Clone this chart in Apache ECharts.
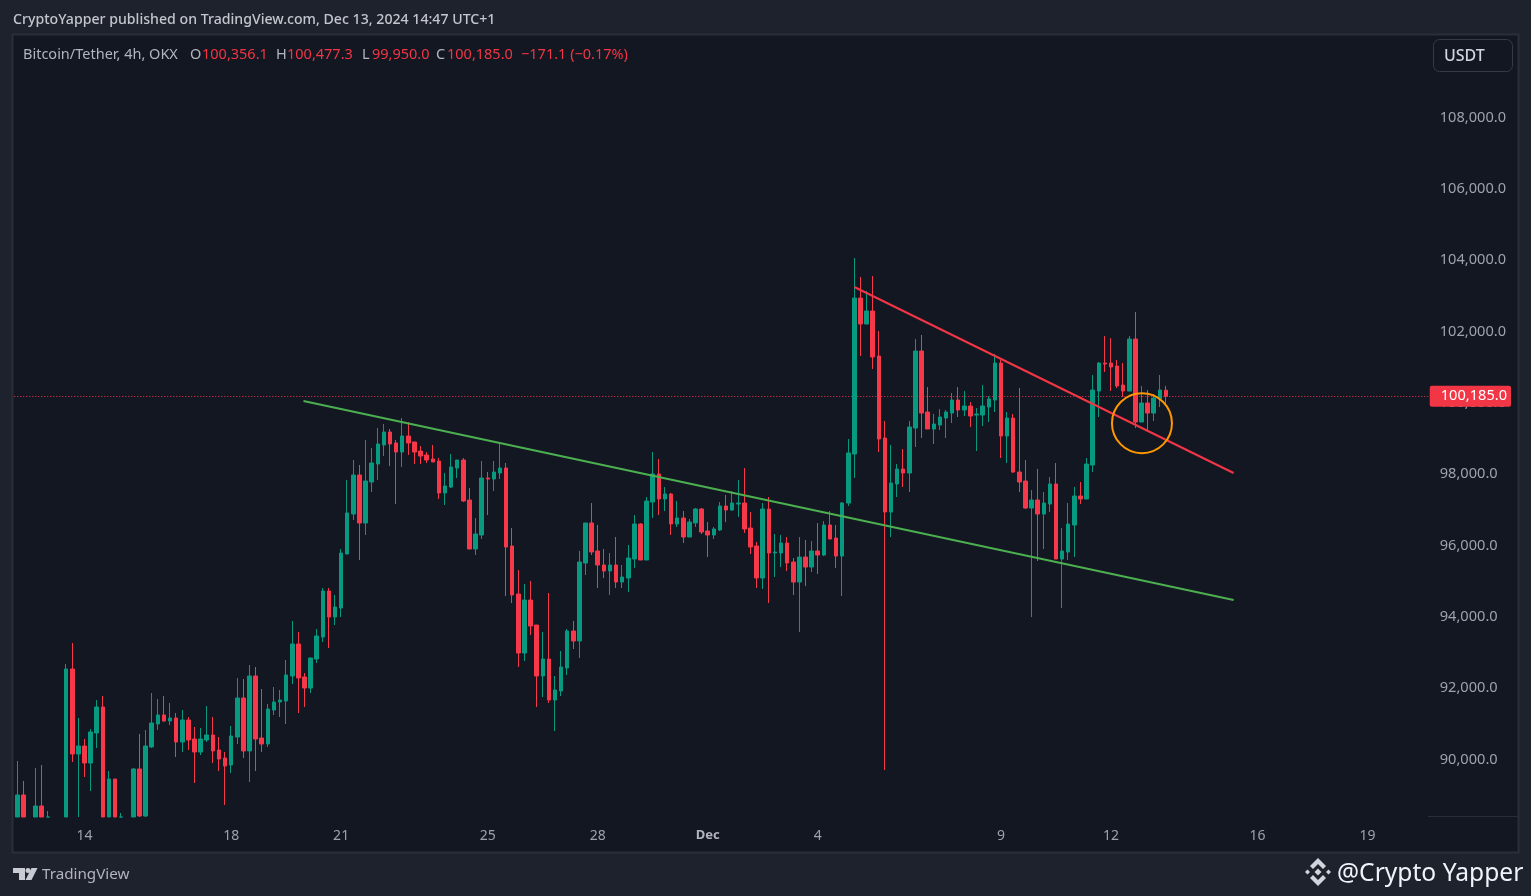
<!DOCTYPE html>
<html>
<head>
<meta charset="utf-8">
<style>html,body{margin:0;padding:0;background:#1e222d}#main{width:1531px;height:896px}</style>
<script src="https://cdn.jsdelivr.net/npm/echarts@6/dist/echarts.min.js"></script>
</head>
<body>
<div id="main"></div>
<script>
// 4h candles. Bars below the axis floor are rough guesses.
var opens = [
  88200,89005,87600,88100,88696,88200,87900,87700,88000,92538,
  90155,90379,89902,90743,91472,88200,89453,88000,88000,88200,
  89734,88416,90351,90996,91248,91080,91164,90491,91108,90575,
  90211,90547,90687,90267,90042,89846,90631,91725,90239,92342,
  90603,90435,91388,91613,91641,92342,93239,92314,92005,92818,
  93435,94725,93996,94248,95762,96884,97977,96631,97781,98286,
  98819,99183,98875,98622,99071,98903,98650,98538,98426,98370,
  97473,97641,98174,98398,97276,95902,96295,97893,97865,98033,
  98174,95986,94641,92986,94472,93771,92341,92818,91668,91921,
  92566,93603,93323,95510,96632,95846,95454,95286,95454,94977,
  95089,95622,96604,95594,97220,98006,97305,97445,96604,96772,
  96239,96632,97024,96407,96295,96435,97108,96996,97164,97192,
  96491,95987,95089,97024,95790,95790,96070,95537,94976,95677,
  95397,95846,95734,96575,96210,95705,97192,98566,102940,102211,
  102576,101314,99014,96939,97725,98145,98033,99295,101454,99743,
  99267,99379,99575,99715,100080,99799,99912,99659,99659,99884,
  100080,101117,99070,99575,98061,97808,97051,97276,96883,97164,
  97725,95621,95818,96575,97388,97304,98257,100332,101117,101117,
  101033,100500,100332,101790,99463,99996,99715,100108,100356.1
];
var closes = [
  89005,88000,87300,88696,88000,87900,87700,88000,92538,90155,
  90379,89902,90771,91472,88200,89453,88300,88200,88100,89734,
  88416,90379,91024,91248,91080,91164,90491,91108,90547,90211,
  90575,90687,90239,90014,89818,90659,91725,90239,92342,90575,
  90435,91416,91613,91669,92370,93239,92286,92005,92846,93463,
  94725,93996,94276,95790,96912,97977,96631,97809,98314,98847,
  99183,98847,98622,99071,98875,98622,98510,98398,98342,97473,
  97669,98202,98398,97248,95902,96323,97893,97865,98061,98174,
  95958,94612,92986,94472,93743,92341,92818,91668,91949,92594,
  93603,93323,95538,96632,95818,95454,95286,95454,94977,95117,
  95650,96604,95594,97248,98006,97305,97445,96604,96772,96239,
  96660,97024,96379,96295,96463,97108,96996,97192,97192,96463,
  95959,95089,97024,95790,95818,96070,95509,94976,95677,95397,
  95846,95734,96575,96182,95705,97192,98594,102940,102211,102576,
  101286,98986,96939,97753,98145,98033,99323,101454,99715,99267,
  99407,99603,99743,100080,99799,99912,99631,99687,99912,100108,
  101117,99070,99575,98061,97781,97051,97276,96883,97192,97725,
  95621,95846,96603,97388,97304,98285,100360,101117,101089,101005,
  100472,100332,101790,99463,99996,99715,100136,100360,100185
];
var lows = [
  87900,87800,87000,87900,87700,87700,87200,87300,87900,89930,
  88000,89510,89117,90323,88000,88000,88100,87800,87800,88000,
  88350,88380,90323,90827,91052,90968,90070,90211,90267,89341,
  90126,90491,89902,89678,88724,89622,90435,90042,89369,89678,
  90211,90351,91248,91192,90996,92117,91304,91472,91865,92706,
  93295,93126,93771,93996,95762,96716,95594,96295,97501,97837,
  98510,98230,97164,98202,98538,98286,98286,98314,98342,97304,
  97136,97613,97893,97220,95902,95734,96183,96856,97529,97865,
  94584,94388,92594,92762,93491,91472,91752,91584,90799,91780,
  92369,93098,92846,95173,95734,94809,95089,94613,94809,94809,
  94697,95370,95594,95594,96772,96856,96968,96295,96519,96071,
  96239,96519,96323,95678,96183,96407,96660,96968,96800,96351,
  95762,94809,94781,94388,95117,95397,95285,94612,93575,94864,
  95257,95201,95705,96182,95369,94584,97108,97893,101314,102211,
  100949,98622,89706,96238,97360,97640,97500,98762,99014,99267,
  98846,99239,99014,99435,99603,99631,99323,98650,99351,99463,
  99743,98454,98313,98033,97500,97023,93995,95565,95902,96939,
  95621,94247,95593,95678,97164,97304,98061,99603,100865,100332,
  100416,100164,100332,99295,99463,99239,99491,99884,99950
];
var highs = [
  89958,89397,88300,89762,89846,88556,88200,88300,92678,93267,
  91164,90575,90855,91669,91781,89678,89453,88500,88350,89762,
  90715,90827,91865,91697,91781,91585,91304,91388,91192,90912,
  90884,91500,91192,90631,90211,90940,92286,92258,92650,92594,
  91977,91557,92033,91949,92790,93884,93576,92426,92860,93659,
  94809,94809,94613,95902,97837,98398,98258,98959,98734,99295,
  99407,99267,98959,99576,99464,98903,98790,98622,98819,98454,
  98033,98566,98398,98454,97613,96772,98370,98061,98370,98875,
  98314,96491,95314,94921,95005,93771,93575,94669,92341,93042,
  93659,93884,95846,96632,97192,96576,95903,95790,96239,95454,
  96015,96856,96632,97361,98622,98426,97641,97473,97248,96968,
  96744,97052,97052,96660,96519,97220,97417,97529,97837,98174,
  96940,96099,97192,97361,96322,96294,96238,95649,96238,96154,
  96126,96631,96687,96967,96575,97220,98986,104062,103529,103136,
  103557,102015,99491,98818,98285,98706,99491,101790,101903,100444,
  99687,99827,99799,100276,100444,100332,100024,99856,100500,100192,
  101370,101202,99743,99687,100416,98397,97556,98145,97500,97921,
  98313,96491,97192,97640,97781,98454,100781,101145,101874,101818,
  101201,101117,101874,102548,100472,100360,100248,100781,100477.3
];

var lastPrice = 100185;
var priceFloor = 88388;
var priceCeil = 110315;
var slotCount = 232; // bars plus the empty space on the right
var tickIndex = [11, 35, 53, 77, 95, 113, 131, 161, 179, 203, 221];
var tickText = ["14", "18", "21", "25", "28", "Dec", "4", "9", "12", "16", "19"];
var priceTicks = [90000, 92000, 94000, 96000, 98000, 100000, 102000, 104000, 106000, 108000];

// trend lines and the circle, bar index / price
var greenLine = [[46.84, 100052], [199.07, 94472]];
var redLine = [[137, 103249], [199.07, 98033]];
var circleMark = [[184.07, 99430]];

var legendItems = [
  { text: "Bitcoin/Tether, 4h, OKX", x: 23, red: false },
  { text: "O", x: 190, red: false },
  { text: "100,356.1", x: 202, red: true },
  { text: "H", x: 276, red: false },
  { text: "100,477.3", x: 287, red: true },
  { text: "L", x: 362, red: false },
  { text: "99,950.0", x: 372, red: true },
  { text: "C", x: 436, red: false },
  { text: "100,185.0", x: 447, red: true },
  { text: "−171.1 (−0.17%)", x: 521, red: true }
];

var upColor = "#089981";
var downColor = "#f7374a";
var font = '"Noto Sans", sans-serif';

var categories = [];
for (var i = 0; i < slotCount; i++) categories.push(String(i));

// candlestick clip only drops whole bars, so cut the ones running under the pane here
function floored(v) {
  return Math.max(v, priceFloor);
}
var candles = [];
for (var i = 0; i < opens.length; i++) {
  if (highs[i] <= priceFloor) {
    candles.push(["-", "-", "-", "-"]);
  } else {
    candles.push([floored(opens[i]), floored(closes[i]), floored(lows[i]), highs[i]]);
  }
}

function priceText(v) {
  return v.toLocaleString("en-US", { minimumFractionDigits: 1 });
}

function diamond(cx, cy, r) {
  return { type: "polygon", silent: true, shape: { points: [[cx, cy - r], [cx + r, cy], [cx, cy + r], [cx - r, cy]] },
    style: { fill: "#d1d4dc" } };
}

var chrome = [
  { type: "rect", z: -10, silent: true, shape: { x: 12.5, y: 34.5, width: 1506, height: 818 },
    style: { fill: "#131722", stroke: "#2a2e39", lineWidth: 2 } },
  { type: "line", z: -9, silent: true, shape: { x1: 1428, y1: 816.5, x2: 1518, y2: 816.5 },
    style: { stroke: "#2a2e39", lineWidth: 1 } },
  { type: "rect", silent: true, shape: { x: 1433.5, y: 39.5, width: 79, height: 32, r: 6 },
    style: { fill: "#131722", stroke: "#363a45", lineWidth: 1 } },
  { type: "text", silent: true, style: { x: 1444, y: 56, text: "USDT", fill: "#d1d4dc",
    font: '500 16px ' + font, textVerticalAlign: "middle" } },
  { type: "text", silent: true, style: { x: 13, y: 19.5, text: "CryptoYapper published on TradingView.com, Dec 13, 2024 14:47 UTC+1",
    fill: "#c3c6ce", font: '500 14.15px ' + font, textVerticalAlign: "middle" } },
  // TradingView mark
  { type: "polygon", silent: true, shape: { points: [[13, 868], [25, 868], [25, 880], [19, 880], [19, 873], [13, 873]] },
    style: { fill: "#c8cbd3" } },
  { type: "polygon", silent: true, shape: { points: [[31.5, 868], [37.5, 868], [31.5, 880], [25.5, 880]] },
    style: { fill: "#c8cbd3" } },
  { type: "circle", silent: true, shape: { cx: 28, cy: 870.5, r: 2.5 }, style: { fill: "#c8cbd3" } },
  { type: "text", silent: true, style: { x: 42, y: 874.5, text: "TradingView", fill: "#b2b5be",
    font: '15.2px ' + font, textVerticalAlign: "middle" } },
  // Binance mark
  { type: "polygon", silent: true, shape: { points: [[1318, 858], [1326, 866], [1323, 869], [1318, 864], [1313, 869], [1310, 866]] },
    style: { fill: "#d1d4dc" } },
  { type: "polygon", silent: true, shape: { points: [[1318, 886], [1310, 878], [1313, 875], [1318, 880], [1323, 875], [1326, 878]] },
    style: { fill: "#d1d4dc" } },
  diamond(1318, 872, 3.5),
  diamond(1307.5, 872, 2.5),
  diamond(1328.5, 872, 2.5),
  { type: "text", silent: true, style: { x: 1337, y: 874, text: "@Crypto Yapper", fill: "#f0f3fa",
    font: '24.6px ' + font, textVerticalAlign: "middle" } }
];
for (var i = 0; i < legendItems.length; i++) {
  chrome.push({ type: "text", silent: true, style: {
    x: legendItems[i].x, y: 54.5, text: legendItems[i].text,
    fill: legendItems[i].red ? "#f23645" : "#b2b5be",
    font: '14.5px ' + font, textVerticalAlign: "middle" } });
}

var myChart = echarts.init(document.getElementById("main"), null, { renderer: "canvas" });

var option = {
  animation: false,
  backgroundColor: "#1e222d",
  graphic: chrome,
  grid: { left: 14.25, right: 99.25, top: 35, bottom: 79 },
  xAxis: [
    {
      type: "category",
      data: categories,
      axisLine: { show: false },
      axisTick: { show: false },
      splitLine: { show: false },
      axisLabel: {
        margin: 12,
        color: "#9ea2ac",
        fontFamily: font,
        fontSize: 14,
        hideOverlap: false,
        interval: function (index) { return tickIndex.indexOf(index) >= 0; },
        formatter: function (value, index) {
          var t = tickText[tickIndex.indexOf(index)];
          return t === "Dec" ? "{b|Dec}" : t;
        },
        rich: { b: { fontWeight: "bold", color: "#b2b5be", fontFamily: font, fontSize: 13 } }
      }
    },
    { type: "value", show: false, min: -0.5, max: slotCount - 0.5, splitLine: { show: false } }
  ],
  yAxis: {
    type: "value",
    position: "right",
    min: priceFloor,
    max: priceCeil,
    axisLine: { show: false },
    axisTick: { show: false },
    splitLine: { show: false },
    axisLabel: {
      customValues: priceTicks,
      margin: 8,
      padding: [0, 0, 3, 0],
      color: "#9ea2ac",
      fontFamily: font,
      fontSize: 14.6,
      formatter: priceText
    }
  },
  series: [
    {
      type: "candlestick",
      z: 3,
      data: candles,
      barWidth: 4,
      silent: true,
      itemStyle: {
        color: upColor, color0: downColor,
        borderColor: upColor, borderColor0: downColor,
        borderWidth: 1
      },
      markLine: {
        z: 1,
        silent: true,
        symbol: "none",
        precision: 1,
        lineStyle: { color: "#f23645", type: [1, 2], width: 1 },
        label: {
          position: "end",
          distance: -2,
          formatter: function () { return priceText(lastPrice); },
          backgroundColor: "#f23645",
          color: "#ffffff",
          fontFamily: font,
          fontSize: 14.6,
          padding: [3, 4, 3, 11],
          align: "left",
          borderRadius: 2
        },
        data: [{ yAxis: lastPrice }]
      }
    },
    {
      type: "line", xAxisIndex: 1, z: 4, silent: true, symbol: "none", data: greenLine,
      lineStyle: { color: "#4caf50", width: 2 }
    },
    {
      type: "line", xAxisIndex: 1, z: 4, silent: true, symbol: "none", data: redLine,
      lineStyle: { color: "#f23645", width: 2 }
    },
    {
      type: "scatter", xAxisIndex: 1, z: 4, silent: true, data: circleMark, symbolSize: 60,
      itemStyle: { color: "rgba(0,0,0,0)", borderColor: "#ff9800", borderWidth: 2, opacity: 1 }
    }
  ]
};

myChart.setOption(option);
</script>
</body>
</html>
